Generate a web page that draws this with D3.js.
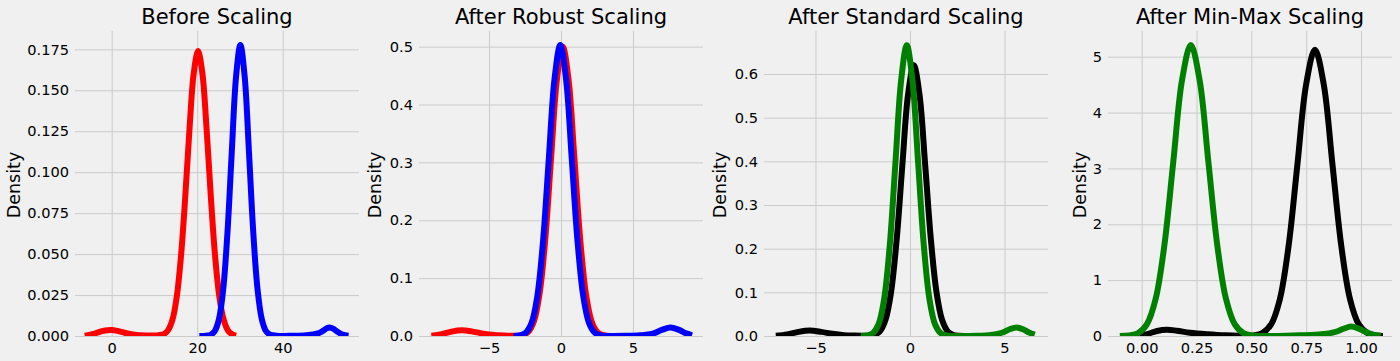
<!DOCTYPE html>
<html>
<head>
<meta charset="utf-8">
<script src="https://cdn.jsdelivr.net/npm/d3@7"></script>
<style>
  html, body { margin: 0; padding: 0; background: #f0f0f0; }
  svg { display: block; font-family: "DejaVu Sans", sans-serif; }
</style>
</head>
<body>
<svg id="chart" width="1400" height="361"></svg>
<script>
// values: [x, density]
const titles = ['Before Scaling', 'After Robust Scaling', 'After Standard Scaling', 'After Min-Max Scaling'];

const beforeRed = [[-6.3,0.0002],[-5,0.0008],[-4,0.0014],[-3,0.0024],[-2,0.0031],[-1,0.0035],[0,0.0036],[1,0.0033],[2,0.0027],[3,0.002],[4,0.0014],[5,0.0009],[6,0.0006],[7,0.0004],[8,0.0003],[9,0.0003],[10,0.0003],[11,0.0005],[12.2,0.0012],[13.2,0.0036],[14.2,0.0098],[15.2,0.0236],[16.2,0.0484],[17.2,0.0847],[18.2,0.1264],[19.2,0.1606],[20.2,0.174],[21.2,0.1606],[22.2,0.1264],[23.2,0.0847],[24.2,0.0484],[25.2,0.0236],[26.2,0.0098],[27.2,0.0034],[28.2,0.001],[29.1,0.0002]];
const beforeBlue = [[20.5,0],[22.1,0.0002],[23.1,0.0007],[24.1,0.003],[25.1,0.0104],[26.1,0.0289],[27.1,0.064],[28.1,0.1129],[29.1,0.1586],[30.1,0.1776],[31.1,0.1586],[32.1,0.1129],[33.1,0.064],[34.1,0.0289],[35.1,0.0104],[36.1,0.003],[37.1,0.0008],[38.5,0.0002],[42,0.0001],[45,0.0003],[47,0.0009],[48.5,0.0018],[49.5,0.0033],[50.3,0.0047],[51,0.0052],[51.8,0.0045],[52.8,0.0026],[54,0.0009],[55.4,0.0002]];

const robustRed = [[-9.0,0.0005],[-8.3,0.003],[-7.6,0.0075],[-6.9,0.0098],[-6.2,0.008],[-5.5,0.0045],[-4.8,0.0022],[-4.0,0.0009],[-3.2,0.0004],[-2.68,0.0015],[-2.28,0.0069],[-1.88,0.0256],[-1.48,0.0745],[-1.08,0.171],[-0.68,0.311],[-0.28,0.444],[0.12,0.5],[0.52,0.444],[0.92,0.311],[1.32,0.171],[1.72,0.0745],[2.12,0.0256],[2.52,0.0069],[2.92,0.0015],[3.4,0.0002]];
const robustBlue = [[-3.3,0.0002],[-2.85,0.0011],[-2.45,0.0056],[-2.05,0.0221],[-1.65,0.068],[-1.25,0.163],[-0.85,0.305],[-0.45,0.444],[-0.05,0.503],[0.35,0.444],[0.75,0.305],[1.15,0.163],[1.55,0.068],[1.95,0.0221],[2.35,0.0056],[2.75,0.0011],[3.2,0.0002],[4.5,0.0003],[5.5,0.0012],[6.3,0.0035],[7.0,0.0105],[7.6,0.0148],[8.2,0.0105],[8.7,0.0045],[9.1,0.0012]];

const standardBlack = [[-7.1,0.0005],[-6.5,0.0035],[-5.9,0.0095],[-5.3,0.0125],[-4.7,0.0095],[-4.1,0.005],[-3.5,0.002],[-2.9,0.0009],[-2.5,0.0005],[-2.2,0.0005],[-1.9,0.0024],[-1.6,0.0105],[-1.3,0.0365],[-1.0,0.101],[-0.7,0.2235],[-0.4,0.394],[-0.1,0.554],[0.2,0.62],[0.5,0.554],[0.8,0.394],[1.1,0.2235],[1.4,0.101],[1.7,0.0365],[2.0,0.0105],[2.3,0.0024],[2.6,0.0004],[3.0,0.0001]];
const standardGreen = [[-2.6,0.0002],[-2.27,0.0012],[-1.97,0.0063],[-1.67,0.0263],[-1.37,0.0842],[-1.07,0.208],[-0.77,0.397],[-0.47,0.585],[-0.17,0.666],[0.13,0.585],[0.43,0.397],[0.73,0.208],[1.03,0.0842],[1.33,0.0263],[1.63,0.0063],[1.93,0.0012],[2.3,0.0002],[3.5,0.0004],[4.3,0.0025],[4.9,0.008],[5.3,0.016],[5.65,0.0195],[6.0,0.015],[6.3,0.008],[6.6,0.003]];

const minmaxBlack = [[-0.01,0.002],[0.03,0.04],[0.07,0.09],[0.115,0.112],[0.16,0.095],[0.22,0.06],[0.3,0.032],[0.38,0.012],[0.45,0.005],[0.49,0.006],[0.51,0.011],[0.55,0.0507],[0.59,0.208],[0.63,0.659],[0.67,1.617],[0.71,3.069],[0.75,4.508],[0.79,5.125],[0.83,4.508],[0.87,3.069],[0.91,1.617],[0.95,0.659],[0.99,0.208],[1.03,0.0507],[1.07,0.0096],[1.1,0.002]];
const minmaxGreen = [[-0.1,0.0003],[-0.056,0.0098],[-0.016,0.0517],[0.024,0.2116],[0.064,0.67],[0.104,1.644],[0.144,3.12],[0.184,4.583],[0.224,5.21],[0.264,4.583],[0.304,3.12],[0.344,1.644],[0.384,0.67],[0.424,0.2116],[0.464,0.0517],[0.504,0.0098],[0.544,0.0014],[0.62,0.0005],[0.72,0.012],[0.82,0.03],[0.88,0.07],[0.92,0.13],[0.955,0.17],[0.99,0.13],[1.03,0.06],[1.06,0.02],[1.09,0.004]];

const beforeXTicks = [0, 20, 40];
const beforeYTicks = [0, 0.025, 0.05, 0.075, 0.1, 0.125, 0.15, 0.175];
const robustXTicks = [-5, 0, 5];
const robustYTicks = [0, 0.1, 0.2, 0.3, 0.4, 0.5];
const standardXTicks = [-5, 0, 5];
const standardYTicks = [0, 0.1, 0.2, 0.3, 0.4, 0.5, 0.6];
const minmaxXTicks = [0, 0.25, 0.5, 0.75, 1];
const minmaxYTicks = [0, 1, 2, 3, 4, 5];

const panels = [
  { title: titles[0], left: 75, xDomain: [-8.585, 57.85], yMax: 0.1862,
    xTicks: beforeXTicks, yTicks: beforeYTicks, xFmt: d3.format('d'), yFmt: d3.format('.3f'),
    labelX: -55.5, series: [[beforeRed, '#ff0000'], [beforeBlue, '#0000ff']] },
  { title: titles[1], left: 419, xDomain: [-9.861, 9.861], yMax: 0.527,
    xTicks: robustXTicks, yTicks: robustYTicks, xFmt: d3.format('d'), yFmt: d3.format('.1f'),
    labelX: -38, series: [[robustRed, '#ff0000'], [robustBlue, '#0000ff']] },
  { title: titles[2], left: 764, xDomain: [-7.725, 7.302], yMax: 0.6985,
    xTicks: standardXTicks, yTicks: standardYTicks, xFmt: d3.format('d'), yFmt: d3.format('.1f'),
    labelX: -38, series: [[standardBlack, '#000000'], [standardGreen, '#008000']] },
  { title: titles[3], left: 1108, xDomain: [-0.1537, 1.1414], yMax: 5.46,
    xTicks: minmaxXTicks, yTicks: minmaxYTicks, xFmt: d3.format('.2f'), yFmt: d3.format('d'),
    labelX: -22, series: [[minmaxBlack, '#000000'], [minmaxGreen, '#008000']] },
];

const svg = d3.select('#chart');
const plotTop = 31;
const plotWidth = 284;
const plotHeight = 305;

svg.append('rect').attr('width', 1400).attr('height', 361).attr('fill', '#f0f0f0');

panels.forEach((p, i) => {
  const x = d3.scaleLinear().domain(p.xDomain).range([0, plotWidth]);
  const y = d3.scaleLinear().domain([0, p.yMax]).range([plotHeight, 0]);
  const g = svg.append('g').attr('transform', `translate(${p.left},${plotTop})`);

  g.append('clipPath').attr('id', `clip${i}`)
    .append('rect').attr('width', plotWidth).attr('height', plotHeight);

  const yAxis = g.append('g')
    .call(d3.axisLeft(y).tickValues(p.yTicks).tickFormat(p.yFmt).tickSize(-plotWidth).tickPadding(6));
  const xAxis = g.append('g')
    .attr('transform', `translate(0,${plotHeight})`)
    .call(d3.axisBottom(x).tickValues(p.xTicks).tickFormat(p.xFmt).tickSize(-plotHeight).tickPadding(7));

  [yAxis, xAxis].forEach((ax) => {
    ax.select('.domain').remove();
    ax.selectAll('line').attr('stroke', '#cbcbcb').attr('stroke-width', 1);
    ax.selectAll('text').attr('fill', '#000').style('font-size', '14.6px')
      .style('font-family', '"DejaVu Sans", sans-serif');
  });

  const line = d3.line()
    .x((d) => x(d[0]))
    .y((d) => y(d[1]))
    .curve(d3.curveCatmullRom.alpha(0.5));

  p.series.forEach(([data, color]) => {
    g.append('path')
      .datum(data)
      .attr('clip-path', `url(#clip${i})`)
      .attr('fill', 'none')
      .attr('stroke', color)
      .attr('stroke-width', 6)
      .attr('stroke-linejoin', 'round')
      .attr('d', line);
  });

  g.append('text')
    .attr('x', plotWidth / 2)
    .attr('y', -7)
    .attr('text-anchor', 'middle')
    .style('font-size', '21px')
    .text(p.title);

  g.append('text')
    .attr('transform', `translate(${p.labelX},${plotHeight / 2 + 1.5}) rotate(-90)`)
    .attr('text-anchor', 'middle')
    .style('font-size', '17.5px')
    .text('Density');
});
</script>
</body>
</html>
